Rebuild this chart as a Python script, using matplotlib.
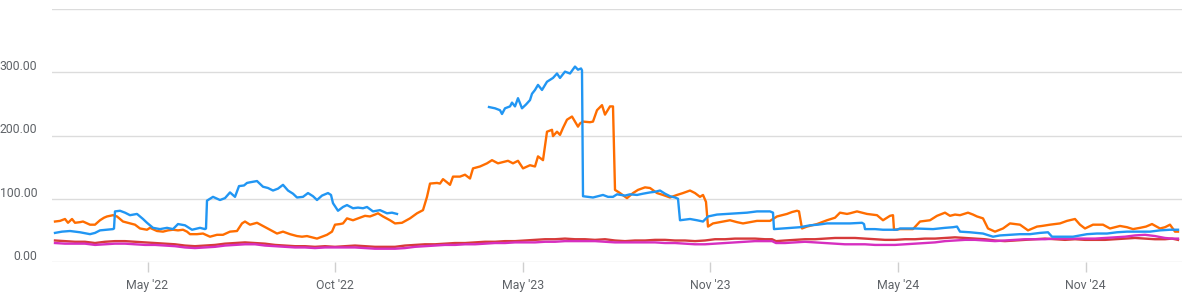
import matplotlib
matplotlib.use("Agg")
import matplotlib.pyplot as plt
import numpy as np

plt.rcParams['font.family'] = ['Roboto', 'DejaVu Sans']

# position along the time axis (sessions-ish index) and value for each series
blue_t = [1, 8, 16, 26, 36, 41, 46, 53, 59, 60, 61, 66, 71, 76, 83, 89, 93, 99, 106, 113,
          119, 124, 131, 138, 146, 151, 152, 153, 159, 166, 171, 176, 181, 185, 190, 193,
          196, 203, 209, 214, 219, 224, 229, 234, 239, 243, 249, 254, 259, 263, 268, 274,
          277, 279, 284, 289, 293, 299, 304, 309, 313, 319, 326, 333, 338, 343, 344,
          435, 441, 446, 448, 451, 456, 458, 461, 464, 468, 472, 476, 478, 481, 484, 488,
          493, 499, 503, 506, 511, 516, 521, 524, 527, 528, 529, 534, 539, 544, 549, 554,
          559, 563, 571, 576, 583, 589, 596, 601, 606, 611, 616, 621, 624, 626, 631, 636,
          643, 649, 654, 663, 673, 683, 693, 703, 711, 716, 719, 720, 729, 738, 746, 756,
          764, 773, 784, 796, 808, 810, 811, 821, 829, 843, 846, 861, 879, 891, 899, 903,
          906, 916, 929, 939, 946, 956, 966, 976, 986, 994, 998, 1008, 1019, 1026, 1033,
          1043, 1053, 1063, 1073, 1084, 1096, 1106, 1116, 1124]
blue_v = [46, 48, 49, 47, 44, 46, 50, 51, 52, 53, 80, 81, 78, 74, 76, 68, 62, 54, 52, 54,
          52, 60, 58, 51, 54, 52, 53, 97, 103, 98, 101, 110, 103, 120, 121, 125,
          126, 128, 119, 117, 113, 116, 122, 113, 108, 102, 103, 109, 104, 98, 105, 109,
          106, 93, 81, 87, 90, 85, 86, 85, 87, 80, 82, 77, 78, 76, np.nan,
          245, 243, 240, 234, 243, 246, 252, 246, 259, 243, 249, 256, 266, 272, 280, 272,
          285, 291, 298, 291, 301, 298, 309, 304, 306, 303, 104, 103, 102, 104, 106, 103,
          103, 107, 105, 107, 106, 108, 110, 111, 113, 108, 104, 102, 100, 66, 67, 68,
          66, 64, 72, 75, 76, 77, 78, 80, 80, 80, 78, 52, 53, 54, 55, 58,
          59, 61, 61, 61, 62, 60, 52, 52, 51, 51, 53, 53, 52, 54, 55, 56,
          48, 47, 45, 40, 42, 43, 44, 44, 46, 47, 40, 40, 40, 42, 44,
          45, 45, 47, 48, 48, 48, 50, 51, 51]

orange_t = [1, 6, 11, 14, 18, 21, 26, 29, 36, 41, 46, 50, 53, 59, 63, 66, 69, 76, 81, 86,
            93, 96, 103, 109, 114, 119, 124, 129, 133, 136, 143, 149, 156, 163, 169, 176,
            183, 188, 191, 196, 203, 209, 216, 223, 229, 236, 243, 248, 253, 258, 263, 268,
            273, 278, 281, 286, 289, 293, 299, 306, 311, 316, 321, 324, 329, 336, 341, 348,
            356, 363, 369, 373, 376, 383, 386, 389, 393, 396, 399, 406, 411, 416, 419, 426,
            433, 438, 444, 449, 454, 459, 464, 469, 476, 481, 484, 489, 493, 498, 499, 503,
            506, 509, 513, 518, 521, 524, 526, 529, 536, 539, 543, 548, 551, 556, 559, 561,
            566, 573, 579, 584, 591, 596, 603, 609, 616, 623, 629, 636, 641, 646, 649, 652,
            654, 659, 666, 676, 683, 689, 696, 703, 711, 716, 723, 728, 733, 738, 743, 745,
            748, 753, 763, 773, 781, 786, 793, 796, 803, 808, 813, 818, 823, 829, 836, 839,
            840, 846, 859, 866, 871, 876, 883, 891, 896, 901, 906, 914, 919, 923, 929, 934,
            941, 949, 956, 961, 966, 974, 983, 988, 996, 1006, 1013, 1021, 1026, 1031, 1039,
            1049, 1056, 1066, 1073, 1079, 1086, 1092, 1098, 1106, 1111, 1116, 1121, 1124]
orange_v = [64, 65, 68, 62, 68, 62, 63, 64, 59, 59, 66, 70, 72, 74, 72, 68, 64, 61, 59, 53,
            51, 54, 49, 48, 50, 51, 50, 51, 48, 44, 44, 45, 40, 43, 43, 48,
            49, 61, 64, 59, 62, 57, 51, 45, 48, 44, 41, 40, 41, 39, 37, 40,
            43, 48, 59, 60, 61, 69, 66, 70, 73, 72, 75, 77, 72, 66, 61, 62,
            69, 77, 82, 103, 124, 125, 124, 131, 126, 122, 135, 135, 138, 132, 148, 151,
            156, 161, 156, 158, 160, 156, 160, 148, 153, 151, 167, 161, 206, 209, 199, 206,
            201, 212, 225, 230, 222, 214, 219, 222, 221, 222, 240, 248, 233, 246, 246, 114,
            109, 101, 109, 114, 118, 117, 109, 106, 102, 106, 109, 113, 109, 103, 106, 95,
            56, 61, 63, 66, 63, 61, 63, 65, 65, 65, 72, 74, 76, 79, 81, 80,
            53, 56, 60, 66, 70, 78, 76, 77, 80, 78, 76, 75, 74, 66, 73, 74,
            51, 52, 52, 64, 65, 66, 73, 78, 73, 75, 74, 78, 75, 72, 69, 53,
            48, 53, 61, 60, 59, 50, 56, 57, 59, 61, 65, 68, 59, 53, 59,
            59, 53, 57, 55, 52, 54, 56, 60, 53, 55, 59, 48, 48]

red_t = [1, 11, 21, 31, 41, 51, 61, 71, 81, 91, 101, 111, 121, 131, 141, 151, 161, 171, 181,
         191, 201, 211, 221, 231, 241, 251, 261, 271, 281, 291, 301, 311, 321, 331, 341,
         351, 361, 371, 381, 391, 401, 411, 421, 431, 441, 451, 461, 471, 481, 491, 501,
         511, 521, 531, 541, 551, 561, 571, 581, 591, 601, 611, 621, 631, 641, 651, 661,
         671, 681, 691, 701, 711, 718, 722, 731, 741, 751, 761, 771, 781, 791, 801, 811,
         821, 831, 841, 851, 861, 871, 881, 891, 901, 911, 921, 931, 941, 951, 961, 971,
         981, 991, 1001, 1011, 1021, 1031, 1041, 1051, 1061, 1071, 1081, 1091, 1101, 1111,
         1118, 1124]
red_v = [34, 33, 32, 32, 30, 32, 33, 33, 32, 31, 30, 29, 28, 26, 25, 26, 27, 29, 30,
         31, 30, 29, 27, 26, 25, 25, 24, 25, 24, 25, 26, 25, 24, 24, 24,
         26, 27, 28, 28, 29, 30, 30, 31, 32, 32, 33, 33, 34, 35, 36, 36,
         37, 36, 36, 35, 36, 34, 33, 34, 34, 35, 35, 34, 34, 33, 34, 36,
         36, 37, 37, 37, 36, 36, 33, 34, 35, 36, 36, 37, 38, 38, 38, 37,
         36, 35, 35, 36, 36, 37, 37, 38, 39, 38, 37, 36, 34, 33, 34, 35,
         36, 37, 36, 35, 36, 35, 35, 35, 36, 37, 38, 37, 36, 36, 37, 35]

pink_t = red_t
pink_v = [30, 29, 29, 29, 27, 28, 29, 29, 28, 27, 27, 26, 25, 23, 22, 23, 24, 26, 27,
          28, 28, 26, 25, 24, 23, 23, 22, 23, 23, 23, 23, 22, 21, 21, 21,
          22, 24, 25, 26, 27, 27, 28, 28, 29, 30, 30, 31, 31, 31, 32, 32,
          33, 33, 33, 33, 32, 31, 31, 31, 31, 31, 30, 30, 29, 28, 28, 29,
          30, 31, 32, 33, 33, 33, 30, 30, 31, 32, 31, 30, 29, 28, 28, 28,
          27, 27, 27, 28, 29, 30, 31, 33, 34, 35, 35, 34, 33, 34, 35, 36,
          36, 36, 37, 37, 37, 37, 37, 38, 39, 40, 42, 43, 41, 38, 37, 37]

tick_pos = [93.5, 281.1, 468.7, 656.3, 843.9, 1031.5]
tick_labels = ["May '22", "Oct '22", "May '23", "Nov '23", "May '24", "Nov '24"]
y_grid = [0, 100, 200, 300, 400]
y_labels = ['0.00', '100.00', '200.00', '300.00']

fig = plt.figure(figsize=(11.93, 3.03), dpi=100)
ax = fig.add_axes([52 / 1193, 41 / 303, 1130 / 1193, 253 / 303])

ax.plot(red_t, red_v, color='#d63a3a', lw=1.7, solid_joinstyle='round')
ax.plot(pink_t, pink_v, color='#d62fc0', lw=1.7, solid_joinstyle='round')
ax.plot(orange_t, orange_v, color='#ff6d00', lw=1.7, solid_joinstyle='round')
ax.plot(blue_t, blue_v, color='#2196f3', lw=1.7, solid_joinstyle='round')

ax.set_xlim(-2, 1128)
ax.set_ylim(0, 400)
ax.set_yticks(y_grid)
ax.set_yticklabels([])
ax.tick_params(axis='y', length=0)
ax.grid(axis='y', color='#dcdcdc', lw=1)
ax.set_axisbelow(True)
for s in ax.spines.values():
    s.set_visible(False)

for v, lab in zip(y_grid, y_labels):
    ax.annotate(lab, xy=(0, v), xycoords=('axes fraction', 'data'),
                xytext=(-10.5, 4), textcoords='offset points',
                ha='right', va='center', fontsize=8.8, color='#5f6368')

ax.set_xticks(tick_pos)
ax.set_xticklabels(tick_labels, fontsize=8.8, color='#5f6368')
ax.tick_params(axis='x', length=7.5, width=1, color='#cfcfcf', pad=5)

fig.savefig('out.png', dpi=100)
